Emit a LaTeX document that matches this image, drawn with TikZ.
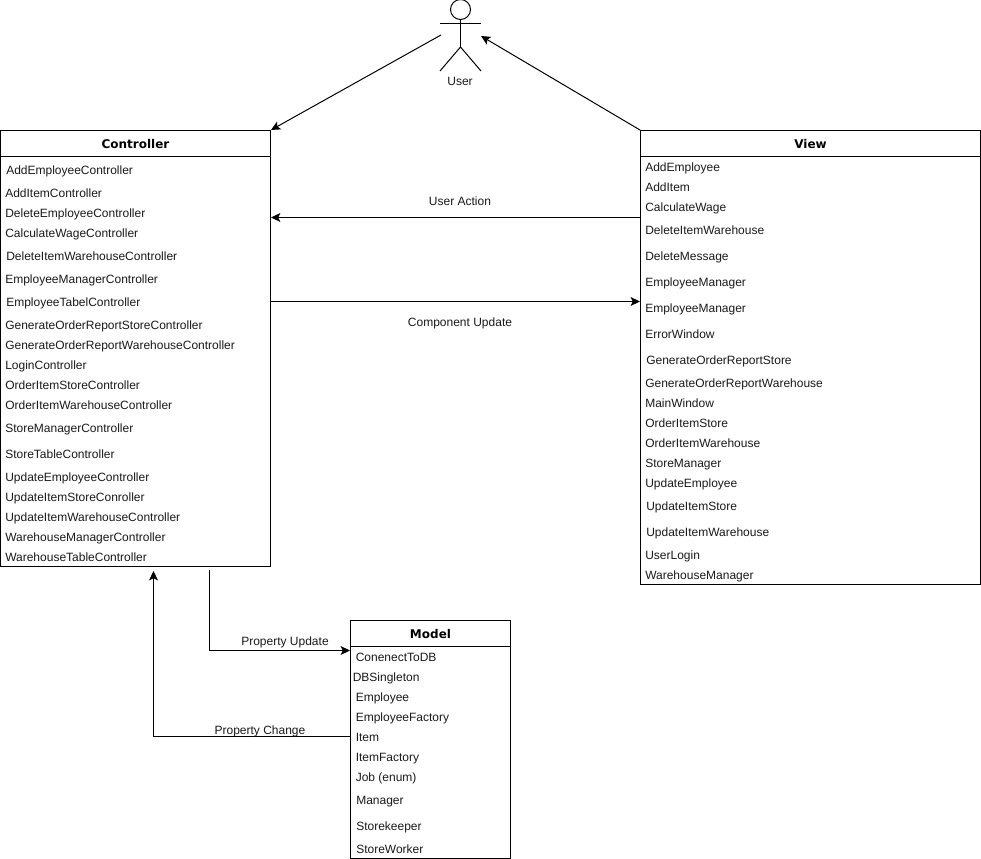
\documentclass[tikz,border=0pt]{standalone}
\usepackage{fontspec}
\setmainfont{Liberation Sans}
\newfontfamily\titlefont{DejaVu Sans}
\usetikzlibrary{arrows.meta}
\definecolor{txt}{HTML}{1A1A1A}
\tikzset{
  x=0.75pt,y=-0.75pt,
  line/.style={draw=black,line width=0.75pt},
  conn/.style={line,-{Stealth[length=7pt,width=6.6pt,inset=1.6pt]}},
  box/.style={line,fill=white},
  item/.style={anchor=base west,yshift=-3.2pt,inner sep=0pt,font=\fontsize{9}{10}\selectfont,text=txt},
  lab/.style={anchor=base,yshift=-3.2pt,inner sep=0pt,font=\fontsize{9}{10}\selectfont,text=txt},
  ttl/.style={anchor=base,yshift=-3.2pt,inner sep=0pt,font=\titlefont\bfseries\fontsize{9}{10}\selectfont,text=black},
}
\begin{document}
\begin{tikzpicture}
\useasboundingbox[fill=white] (0,0) rectangle (981,859);
% boxes
\draw[box] (0.5,130.5) rectangle (270.5,566.5);
\draw[line] (0.5,156.5) -- (270.5,156.5);
\draw[box] (640.5,130.5) rectangle (980.5,584.5);
\draw[line] (640.5,156.5) -- (980.5,156.5);
\draw[box] (350.5,620.5) rectangle (510.5,858.5);
\draw[line] (350.5,646.5) -- (510.5,646.5);
\coordinate (ctlTR) at (271,130);
\coordinate (ctlAct) at (271,217.5);
\coordinate (ctlUpd) at (271,301.5);
\coordinate (ctlBotA) at (209.5,570);
\coordinate (ctlBotB) at (153.5,571);
\coordinate (viewTL) at (640,130);
\coordinate (viewAct) at (640,217.5);
\coordinate (viewUpd) at (640,301.5);
\coordinate (modIn) at (350,650.5);
\coordinate (modOut) at (350,736.5);
\coordinate (userL) at (441,35);
\coordinate (userR) at (481,36);
% titles
\node[ttl] (tc) at (135.5,144) {Controller};
\node[ttl] (tv) at (810.5,144) {View};
\node[ttl] (tm) at (430.5,634) {Model};
% controller items
\node[item] (c1) at (6,170) {AddEmployeeController};
\node[item] (c2) at (5,193) {AddItemController};
\node[item] (c3) at (5,213) {DeleteEmployeeController};
\node[item] (c4) at (5,233) {CalculateWageController};
\node[item] (c5) at (6,256) {DeleteItemWarehouseController};
\node[item] (c6) at (5,279) {EmployeeManagerController};
\node[item] (c7) at (6,302) {EmployeeTabelController};
\node[item] (c8) at (5,325) {GenerateOrderReportStoreController};
\node[item] (c9) at (5,345) {GenerateOrderReportWarehouseController};
\node[item] (c10) at (5,365) {LoginController};
\node[item] (c11) at (5,385) {OrderItemStoreController};
\node[item] (c12) at (5,405) {OrderItemWarehouseController};
\node[item] (c13) at (5,428) {StoreManagerController};
\node[item] (c14) at (5,454) {StoreTableController};
\node[item] (c15) at (5,477) {UpdateEmployeeController};
\node[item] (c16) at (5,497) {UpdateItemStoreConroller};
\node[item] (c17) at (5,517) {UpdateItemWarehouseController};
\node[item] (c18) at (5,537) {WarehouseManagerController};
\node[item] (c19) at (5,557) {WarehouseTableController};
% view items
\node[item] (v1) at (645,167) {AddEmployee};
\node[item] (v2) at (645,187) {AddItem};
\node[item] (v3) at (645,207) {CalculateWage};
\node[item] (v4) at (645,230) {DeleteItemWarehouse};
\node[item] (v5) at (645,256) {DeleteMessage};
\node[item] (v6) at (645,282) {EmployeeManager};
\node[item] (v7) at (645,308) {EmployeeManager};
\node[item] (v8) at (645,334) {ErrorWindow};
\node[item] (v9) at (646,360) {GenerateOrderReportStore};
\node[item] (v10) at (645,383) {GenerateOrderReportWarehouse};
\node[item] (v11) at (645,403) {MainWindow};
\node[item] (v12) at (645,423) {OrderItemStore};
\node[item] (v13) at (645,443) {OrderItemWarehouse};
\node[item] (v14) at (645,463) {StoreManager};
\node[item] (v15) at (645,483) {UpdateEmployee};
\node[item] (v16) at (646,506) {UpdateItemStore};
\node[item] (v17) at (646,532) {UpdateItemWarehouse};
\node[item] (v18) at (645,555) {UserLogin};
\node[item] (v19) at (645,575) {WarehouseManager};
% model items
\node[item] (m1) at (355.5,657) {ConenectToDB};
\node[item] (m2) at (352.5,677) {DBSingleton};
\node[item] (m3) at (355.5,697) {Employee};
\node[item] (m4) at (355.5,717) {EmployeeFactory};
\node[item] (m5) at (355.5,737) {Item};
\node[item] (m6) at (355.5,757) {ItemFactory};
\node[item] (m7) at (355.5,777) {Job (enum)};
\node[item] (m8) at (356,800) {Manager};
\node[item] (m9) at (356,826) {Storekeeper};
\node[item] (m10) at (356,849) {StoreWorker};
% actor
\draw[line] (460.5,9.5) circle (10);
\coordinate (armL) at (440,24);
\coordinate (armR) at (481,24);
\coordinate (neck) at (460.5,19.5);
\coordinate (hip) at (460.5,47);
\coordinate (legL) at (440,71);
\coordinate (legR) at (481,71);
\draw[line] (armL) -- (armR);
\draw[line] (neck) -- (hip);
\draw[line] (legL) -- (hip) -- (legR);
\node[lab] (user) at (460,81) {User};
% connectors
\draw[conn] (userL) -- (ctlTR);
\draw[conn] (viewTL) -- (userR);
\draw[conn] (viewAct) -- (ctlAct);
\draw[conn] (ctlUpd) -- (viewUpd);
\draw[conn] (ctlBotA) |- (modIn);
\draw[conn] (modOut) -| (ctlBotB);
% labels
\node[lab] (la) at (460,201) {User Action};
\node[lab] (lu) at (460,322) {Component Update};
\node[lab] (lp) at (285,641) {Property Update};
\node[lab] (lc) at (260,730) {Property Change};
\end{tikzpicture}
\end{document}
